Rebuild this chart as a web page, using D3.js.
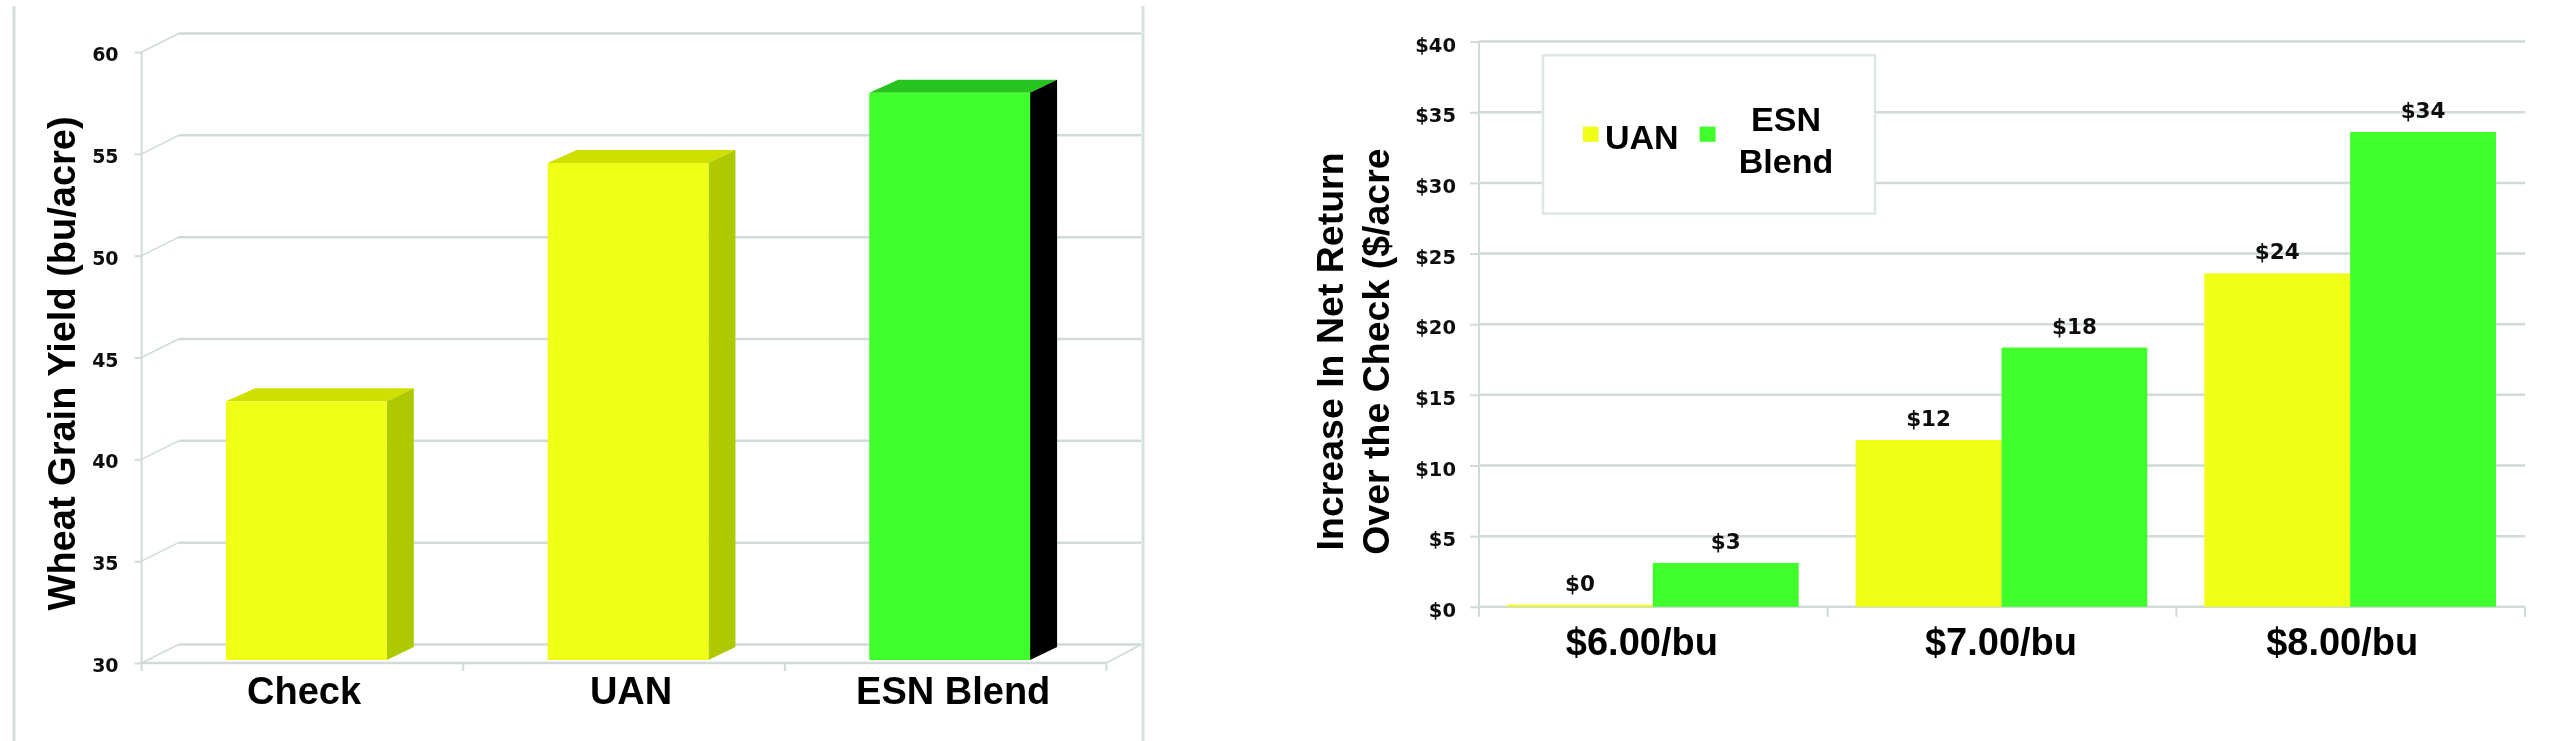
<!DOCTYPE html>
<html>
<head>
<meta charset="utf-8">
<script src="https://cdn.jsdelivr.net/npm/d3@7"></script>
<style>
	html, body { margin: 0; padding: 0; background: #fff; overflow: hidden; }
	svg { display: block; }
</style>
</head>
<body>
<script>
//yield chart data
var yieldCategories = ["Check", "UAN", "ESN Blend"];
var yieldValues = [42.7, 54.4, 57.85];
var yieldTicks = [30, 35, 40, 45, 50, 55, 60];

//net return chart data
var priceCategories = ["$6.00/bu", "$7.00/bu", "$8.00/bu"];
var seriesNames = ["UAN", "ESN Blend"];
var uanReturn = [0.15, 11.8, 23.6];
var esnReturn = [3.1, 18.35, 33.6];
var returnTicks = [0, 5, 10, 15, 20, 25, 30, 35, 40];

var width = 2560,
	height = 741;

var gridColor = "#cfdad9",
	yellow = "#f1ff12",
	green = "#3fff2b",
	sansBold = "'Liberation Sans', Arial, sans-serif",
	tickFont = "'DejaVu Sans', sans-serif";

var svg = d3.select("body")
	.append("svg")
	.attr("width", width)
	.attr("height", height);

//the reference is a soft scan, a light blur takes the edge off
svg.append("filter")
	.attr("id", "soft")
	.append("feGaussianBlur")
	.attr("stdDeviation", 0.5);

var root = svg.append("g").attr("filter", "url(#soft)");

function label(g, str, x, y, size, anchor, rotated){
	return g.append("text")
		.attr("transform", "translate(" + x + "," + y + ")" + (rotated ? " rotate(-90)" : ""))
		.attr("text-anchor", anchor || "middle")
		.attr("font-family", sansBold)
		.attr("font-weight", "bold")
		.attr("font-size", size)
		.attr("fill", "#000")
		.text(str);
}

function styleTicks(axisG, dy, size){
	axisG.select(".domain").remove();
	axisG.selectAll("line").attr("stroke", gridColor).attr("stroke-width", 2);
	axisG.selectAll("text")
		.attr("x", 0)
		.attr("dy", null)
		.attr("y", 0)
		.attr("text-anchor", "end")
		.attr("font-family", tickFont)
		.attr("font-weight", "bold")
		.attr("font-size", size)
		.attr("fill", "#111")
		.attr("transform", "translate(-23," + dy + ")");
}

//outer frame lines of the left panel
root.selectAll(".frame")
	.data([14, 1143])
	.enter()
	.append("line")
	.attr("class", "frame")
	.attr("x1", function(d){ return d; })
	.attr("x2", function(d){ return d; })
	.attr("y1", 6)
	.attr("y2", height)
	.attr("stroke", "#d6e0df")
	.attr("stroke-width", 3);

drawYield();
drawReturn();

//left chart, fake 3d columns
function drawYield(){
	var g = root.append("g");
	var left = 141.6, right = 1106.5, depthX = 37, depthY = 18.5, wallRight = 1141;

	var y = d3.scaleLinear().domain([30, 60]).range([663, 52]);
	var x = d3.scaleBand().domain(yieldCategories).range([left, right]);

	//back wall and side wall
	yieldTicks.forEach(function(t){
		g.append("line")
			.attr("x1", left + depthX).attr("x2", wallRight)
			.attr("y1", y(t) - depthY).attr("y2", y(t) - depthY)
			.attr("stroke", gridColor).attr("stroke-width", 2.5);
		g.append("line")
			.attr("x1", left).attr("x2", left + depthX)
			.attr("y1", y(t)).attr("y2", y(t) - depthY)
			.attr("stroke", gridColor).attr("stroke-width", 1.5);
	});

	//floor edge on the right
	g.append("line")
		.attr("x1", right).attr("x2", wallRight)
		.attr("y1", y(30)).attr("y2", y(30) - depthY)
		.attr("stroke", gridColor).attr("stroke-width", 1.5);

	g.append("line")
		.attr("x1", left).attr("x2", left)
		.attr("y1", y(60)).attr("y2", y(30))
		.attr("stroke", gridColor).attr("stroke-width", 2);
	g.append("line")
		.attr("x1", left).attr("x2", right)
		.attr("y1", y(30)).attr("y2", y(30))
		.attr("stroke", gridColor).attr("stroke-width", 2.5);

	//tick marks between the categories
	x.domain().concat("end").forEach(function(c, i){
		var px = left + i * x.step();
		g.append("line")
			.attr("x1", px).attr("x2", px)
			.attr("y1", y(30)).attr("y2", y(30) + 8)
			.attr("stroke", gridColor).attr("stroke-width", 2);
	});

	var axis = g.append("g")
		.attr("transform", "translate(" + left + ",0)")
		.call(d3.axisLeft(y).tickValues(yieldTicks).tickFormat(d3.format("d")).tickSize(7));
	styleTicks(axis, 8.5, 19);

	//columns
	var barW = x.bandwidth() * 0.5, sideX = 27, sideY = 13, lift = 3;
	var faces = [
		{top: "#cfe000", side: "#aec900", front: yellow},
		{top: "#cfe000", side: "#aec900", front: yellow},
		{top: "#25c41a", side: "#000000", front: green}
	];

	var bars = g.selectAll(".column")
		.data(yieldValues)
		.enter()
		.append("g")
		.attr("class", "column");

	function bx(d, i){ return x(yieldCategories[i]) + x.bandwidth() / 2 - barW / 2 + 4; }
	function by(d){ return y(d) - lift; }
	function base(){ return y(30) - lift; }

	bars.append("polygon")
		.attr("fill", function(d, i){ return faces[i].top; })
		.attr("points", function(d, i){
			var a = bx(d, i), t = by(d);
			return [[a, t], [a + sideX + 2, t - sideY], [a + barW + sideX, t - sideY], [a + barW, t]].join(" ");
		});
	bars.append("polygon")
		.attr("fill", function(d, i){ return faces[i].side; })
		.attr("points", function(d, i){
			var a = bx(d, i) + barW, t = by(d);
			return [[a, t], [a + sideX, t - sideY], [a + sideX, base() - sideY], [a, base()]].join(" ");
		});
	bars.append("rect")
		.attr("fill", function(d, i){ return faces[i].front; })
		.attr("x", bx)
		.attr("y", by)
		.attr("width", barW)
		.attr("height", function(d){ return base() - by(d); });

	//category labels sit slightly off the band centres
	var nudge = [1.6, 7, 7.5];
	yieldCategories.forEach(function(c, i){
		label(g, c, x(c) + x.bandwidth() / 2 + nudge[i], 704, 38);
	});

	label(g, "Wheat Grain Yield (bu/acre)", 74.7, 363.4, 38, "middle", true);
}

//right chart, grouped columns
function drawReturn(){
	var g = root.append("g");
	var left = 1479, right = 2525;

	var y = d3.scaleLinear().domain([0, 40]).range([606.8, 41.6]);
	var x0 = d3.scaleBand().domain(priceCategories).range([left, right]);
	var x1 = d3.scaleBand().domain(seriesNames).range([28, x0.bandwidth() - 29]);
	var color = d3.scaleOrdinal().domain(seriesNames).range([yellow, green]);

	//gridlines
	g.selectAll(".grid")
		.data(returnTicks)
		.enter()
		.append("line")
		.attr("class", "grid")
		.attr("x1", left).attr("x2", right)
		.attr("y1", function(d){ return y(d); })
		.attr("y2", function(d){ return y(d); })
		.attr("stroke", gridColor)
		.attr("stroke-width", 2.5);

	g.append("line")
		.attr("x1", left).attr("x2", left)
		.attr("y1", y(40)).attr("y2", y(0) + 10)
		.attr("stroke", gridColor).attr("stroke-width", 2);

	priceCategories.forEach(function(c){
		var px = x0(c) + x0.step();
		g.append("line")
			.attr("x1", px).attr("x2", px)
			.attr("y1", y(0)).attr("y2", y(0) + 10)
			.attr("stroke", gridColor).attr("stroke-width", 2);
	});

	var axis = g.append("g")
		.attr("transform", "translate(" + left + ",0)")
		.call(d3.axisLeft(y).tickValues(returnTicks).tickFormat(function(d){ return "$" + d; }).tickSize(9));
	styleTicks(axis, 9.5, 19.5);

	//columns and their value labels
	var dollars = d3.format("$.0f");
	var rows = [uanReturn, esnReturn];

	seriesNames.forEach(function(s, k){
		var cols = g.append("g").selectAll("rect")
			.data(rows[k])
			.enter();

		cols.append("rect")
			.attr("x", function(d, i){ return x0(priceCategories[i]) + x1(s); })
			.attr("y", function(d){ return y(d); })
			.attr("width", x1.bandwidth())
			.attr("height", function(d){ return y(0) - y(d); })
			.attr("fill", color(s));

		cols.append("text")
			.attr("x", function(d, i){ return x0(priceCategories[i]) + x1(s) + x1.bandwidth() / 2; })
			.attr("y", function(d){ return y(d) - 14; })
			.attr("text-anchor", "middle")
			.attr("font-family", tickFont)
			.attr("font-weight", "bold")
			.attr("font-size", 21.5)
			.attr("fill", "#111")
			.text(function(d){ return dollars(d); });
	});

	var nudge = [-11.5, -1, -8.5];
	priceCategories.forEach(function(c, i){
		label(g, c, x0(c) + x0.bandwidth() / 2 + nudge[i], 654.5, 38);
	});

	label(g, "Increase In Net Return", 1343.3, 351.4, 37.5, "middle", true);
	label(g, "Over the Check ($/acre", 1389.4, 351.6, 37.5, "middle", true);

	//legend
	var legend = g.append("g");
	legend.append("rect")
		.attr("x", 1543).attr("y", 55.3)
		.attr("width", 332).attr("height", 158.3)
		.attr("fill", "#fff")
		.attr("stroke", "#dfe7e6")
		.attr("stroke-width", 2.5);
	legend.append("rect")
		.attr("x", 1583).attr("y", 126.6).attr("width", 15.5).attr("height", 15.2)
		.attr("fill", color("UAN"));
	legend.append("rect")
		.attr("x", 1699.6).attr("y", 126.6).attr("width", 16).attr("height", 15.2)
		.attr("fill", color("ESN Blend"));
	label(legend, "UAN", 1605, 148.9, 34, "start");
	label(legend, "ESN", 1786, 131.4, 34);
	label(legend, "Blend", 1786, 172.5, 34);
}
</script>
</body>
</html>
